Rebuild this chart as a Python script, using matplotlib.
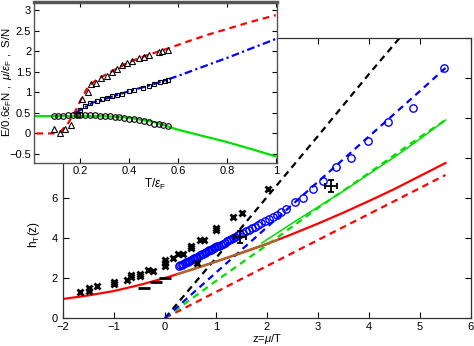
import matplotlib
matplotlib.use("Agg")
import matplotlib.pyplot as plt

plt.rcParams['font.family'] = ['Liberation Sans', 'DejaVu Sans']
plt.rcParams['mathtext.fontset'] = 'custom'
plt.rcParams['mathtext.rm'] = 'Liberation Sans'
plt.rcParams['mathtext.it'] = 'Liberation Sans:italic'
plt.rcParams['font.size'] = 8

# ---------------- main panel data ----------------
z_red = [-2, -1.5, -1, -0.5, 0, 0.5, 1, 1.5, 2, 2.5, 3, 3.5, 4, 4.5, 5, 5.5]
h_red = [0.95, 1.13, 1.35, 1.65, 2.0, 2.4, 2.82, 3.25, 3.7, 4.2, 4.72, 5.27, 5.85, 6.45, 7.1, 7.75]

z_brown = [0.25, 0.5, 1.0, 1.5, 2.0, 2.2]
h_brown = [2.2, 2.4, 2.82, 3.27, 3.72, 3.9]

z_black_dash = [0, 1, 2, 3, 4, 4.7]
h_black_dash = [0, 3.0, 6.05, 9.1, 12.2, 14.3]

z_blue_dash = [0, 1, 2, 3, 4, 5, 5.5]
h_blue_dash = [0, 2.27, 4.54, 6.81, 9.08, 11.35, 12.5]

z_green_dash = [0, 1, 2, 3, 4, 5, 5.5]
h_green_dash = [0, 1.85, 3.65, 5.5, 7.25, 9.05, 9.9]

z_green = [1.9, 2.5, 3.0, 3.5, 4.0, 4.5, 5.0, 5.5]
h_green = [3.75, 4.75, 5.55, 6.35, 7.2, 8.05, 8.95, 9.9]

z_red_dash = [0, 1, 2, 3, 4, 5, 5.5]
h_red_dash = [0, 1.3, 2.6, 3.9, 5.2, 6.5, 7.15]

z_qmc = [-1.67, -1.49, -1.49, -1.33, -1.0, -1.0, -0.75, -0.66, -0.66, -0.5, -0.5,
         -0.33, -0.24, 0.0, 0.0, 0.0, 0.16, 0.25, 0.35, 0.51, 0.51, 0.62, 0.68,
         0.76, 1.0, 1.0, 1.33, 1.5, 2.02]
h_qmc = [1.3, 1.35, 1.48, 1.62, 1.72, 1.82, 1.92, 2.05, 2.15, 2.1, 2.22,
         2.42, 2.33, 2.6, 2.75, 2.9, 3.0, 3.22, 3.2, 3.5, 3.62, 2.75, 3.88,
         3.92, 4.4, 4.5, 5.05, 5.25, 6.45]

z_bar = [-0.41, -0.17, 0.0]
h_bar = [1.5, 1.8, 2.02]

z_err = [1.47, 3.25]
h_err = [4.05, 6.6]
zerr = [0.12, 0.12]
herr = [0.3, 0.3]

z_circ = [0.27, 0.30, 0.33, 0.36, 0.39, 0.42, 0.45, 0.48, 0.51, 0.54, 0.57, 0.60,
          0.63, 0.66, 0.69, 0.72, 0.75, 0.78, 0.81, 0.84, 0.87, 0.90, 0.93, 0.96,
          0.99, 1.02, 1.05, 1.09, 1.13, 1.17, 1.21, 1.25, 1.29, 1.33, 1.38, 1.43,
          1.48, 1.53, 1.58, 1.64, 1.70, 1.76, 1.82, 1.89, 1.96, 2.03, 2.11, 2.19,
          2.28, 2.38, 2.55, 2.7, 2.9, 3.1, 3.35, 3.65, 3.98, 4.37, 4.86, 5.47]
h_circ = [2.6, 2.63, 2.67, 2.71, 2.74, 2.78, 2.82, 2.86, 2.9, 2.94, 2.98, 3.02,
          3.06, 3.1, 3.14, 3.18, 3.22, 3.26, 3.3, 3.34, 3.38, 3.42, 3.46, 3.5,
          3.54, 3.58, 3.62, 3.67, 3.72, 3.77, 3.83, 3.88, 3.94, 3.99, 4.06, 4.13,
          4.19, 4.26, 4.33, 4.41, 4.49, 4.57, 4.65, 4.75, 4.85, 4.95, 5.06, 5.17,
          5.3, 5.44, 5.8, 6.0, 6.45, 6.85, 7.55, 8.0, 8.85, 9.8, 10.5, 12.5]

# ---------------- inset data ----------------
T_S = [0.02, 0.09, 0.12, 0.15, 0.18, 0.2, 0.23, 0.26, 0.3, 0.35, 0.4, 0.47, 0.56,
       0.64, 0.72, 0.81, 0.9, 1.0]
S_line = [0, 0, 0.05, 0.25, 0.55, 0.8, 1.12, 1.28, 1.42, 1.58, 1.74, 1.9, 2.07,
          2.24, 2.4, 2.56, 2.72, 2.88]

T_E = [0.18, 0.25, 0.3, 0.4, 0.5, 0.6, 0.7, 0.81, 0.9, 1.0]
E_line = [0.5, 0.75, 0.84, 1.03, 1.2, 1.4, 1.62, 1.86, 2.07, 2.3]

T_mu = [0.01, 0.1, 0.2, 0.3, 0.4, 0.5, 0.6, 0.7, 0.8, 0.9, 1.0]
mu_line = [0.42, 0.42, 0.43, 0.42, 0.38, 0.28, 0.09, -0.06, -0.21, -0.38, -0.56]

T_tri = [0.09, 0.115, 0.135, 0.16, 0.205, 0.23, 0.245, 0.265, 0.285, 0.307, 0.33,
         0.35, 0.37, 0.39, 0.41, 0.44, 0.46, 0.48, 0.52, 0.535, 0.56]
S_tri = [0.12, 0.0, 0.12, 0.2, 0.83, 1.02, 1.2, 1.22, 1.34, 1.39, 1.49,
         1.58, 1.66, 1.71, 1.76, 1.83, 1.86, 1.9, 1.98, 2.0, 2.04]

T_sq = [0.19, 0.2, 0.22, 0.24, 0.27, 0.29, 0.31, 0.33, 0.35, 0.37, 0.40, 0.42,
        0.455, 0.48, 0.5, 0.525, 0.545, 0.56]
E_sq = [0.44, 0.56, 0.66, 0.73, 0.78, 0.83, 0.86, 0.9, 0.93, 0.97, 1.03, 1.06,
        1.1, 1.15, 1.2, 1.25, 1.28, 1.31]

T_circ = [0.09, 0.11, 0.13, 0.15, 0.17, 0.185, 0.2, 0.22, 0.24, 0.26, 0.28, 0.3,
          0.32, 0.34, 0.36, 0.38, 0.4, 0.42, 0.44, 0.46, 0.48, 0.5, 0.52, 0.54, 0.56]
mu_circ = [0.42, 0.43, 0.43, 0.44, 0.45, 0.45, 0.45, 0.44, 0.44, 0.44, 0.43, 0.42,
           0.42, 0.4, 0.39, 0.38, 0.36, 0.34, 0.32, 0.3, 0.27, 0.24, 0.22, 0.2, 0.17]

W, H = 474, 346
fig = plt.figure(figsize=(W / 100, H / 100), dpi=100)

RED = '#ff0000'
GREEN = '#00e000'
BLUE = '#0000ff'
BROWN = '#a86a2a'

# ---------------- main axes ----------------
ax = fig.add_axes([63 / W, 28 / H, 408 / W, 280 / H])
ax.plot(z_red, h_red, color=RED, lw=1.6, zorder=2)
ax.plot(z_brown, h_brown, color=BROWN, lw=1.6, zorder=3)
ax.plot(z_black_dash, h_black_dash, color='k', lw=1.6, dashes=(3, 2.2), zorder=2)
ax.plot(z_red_dash, h_red_dash, color=RED, lw=1.6, dashes=(3, 2.2), zorder=2)
ax.plot(z_green, h_green, color=GREEN, lw=1.1, zorder=2)
ax.plot(z_green_dash, h_green_dash, color=GREEN, lw=1.6, dashes=(3, 2.2), zorder=2)
ax.plot(z_blue_dash, h_blue_dash, color=BLUE, lw=1.6, dashes=(3, 2.2), zorder=2)
ax.plot(z_circ, h_circ, ls='none', marker='o', ms=5.3, mfc='none', mec=BLUE,
        mew=1.0, zorder=4)
ax.plot(z_qmc, h_qmc, ls='none', marker='x', ms=5, mec='k', mew=2.0, zorder=5)
ax.plot(z_bar, h_bar, ls='none', marker='_', ms=9, mec='k', mew=2.0, zorder=5)
ax.errorbar(z_err, h_err, xerr=zerr, yerr=herr, fmt='none', ecolor='k',
            elinewidth=1.3, capsize=2.5, capthick=1.3, zorder=5)

ax.set_xlim(-2, 6)
ax.set_ylim(0, 14)
ax.set_xticks(range(-2, 7))
ax.set_yticks(range(0, 15, 2))
ax.tick_params(direction='in', top=True, right=True, length=4, width=0.8,
               labelsize=8)
ax.tick_params(axis='x', pad=3)
ax.tick_params(axis='y', pad=4)
for s in ax.spines.values():
    s.set_linewidth(0.9)
    s.set_color('#333333')
ax.set_xlabel(r'z=$\mu$/T', fontsize=8, labelpad=0)
ax.set_ylabel(r'h$_{\rm T}$(z)', fontsize=8.5)
ax.yaxis.set_label_coords(-0.052, 0.30)

# ---------------- inset axes ----------------
ins = fig.add_axes([34 / W, (H - 163) / H, 243 / W, 161 / H])
ins.set_facecolor('white')
ins.plot(T_S, S_line, color=RED, lw=1.6, dashes=(3, 2.2), zorder=2)
ins.plot(T_E, E_line, color=BLUE, lw=1.6, dashes=(3.5, 1.5, 1, 1.5), zorder=2)
ins.plot(T_mu, mu_line, color=GREEN, lw=1.6, zorder=2)
ins.plot(T_tri, S_tri, ls='none', marker='^', ms=4.2, mfc='none', mec='k', mew=0.8, zorder=3)
ins.plot(T_sq, E_sq, ls='none', marker='s', ms=3.5, mfc='none', mec='k', mew=0.8, zorder=3)
ins.plot(T_circ, mu_circ, ls='none', marker='o', ms=4, mfc='none', mec='k', mew=0.8, zorder=3)

ins.set_xlim(0.01, 1.005)
ins.set_ylim(-0.72, 3.2)
ins.set_xticks([0.2, 0.4, 0.6, 0.8, 1.0])
ins.set_xticklabels(['0.2', '0.4', '0.6', '0.8', '1'])
ins.set_yticks([-0.5, 0, 0.5, 1, 1.5, 2, 2.5, 3])
ins.set_yticklabels(['\u22120.5', '0', '0.5', '1', '1.5', '2', '2.5', '3'])
ins.tick_params(direction='in', top=True, right=True, length=3.5, width=0.8,
                labelsize=8, pad=2)
for s in ins.spines.values():
    s.set_linewidth(1.0)
    s.set_color('#555555')
ins.spines['top'].set_linewidth(2.5)
ins.set_xlabel(r'T/$\epsilon_{\rm F}$', fontsize=8.5, labelpad=1)
ins.set_ylabel(r'E/0.6$\epsilon_{\rm F}$N ,  $\mu/\epsilon_{\rm F}$ ,  S/N', fontsize=8.2)
ins.yaxis.set_label_coords(-0.083, 0.5)

fig.savefig('out.png', dpi=100)
